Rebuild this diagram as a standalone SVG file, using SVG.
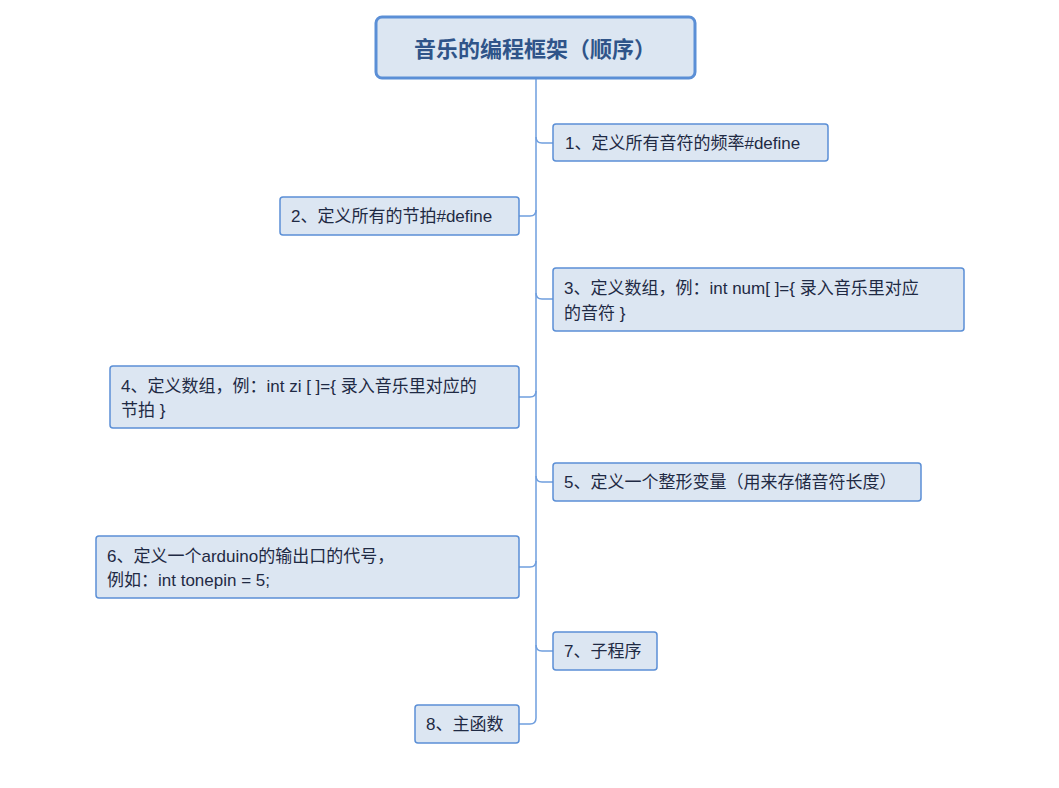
<svg xmlns="http://www.w3.org/2000/svg" width="1059" height="788" viewBox="0 0 1059 788">
<style>
.n{fill:#dce6f2;stroke:#5b8fd6;stroke-width:1.5}
.t{font-family:"Liberation Sans","Noto Sans CJK SC",sans-serif;font-size:17px;fill:#1f2a44}
.c{fill:none;stroke:#6f9ede;stroke-width:1.5}
</style>
<rect width="1059" height="788" fill="#fff"/>
<g id="connectors">
<path class="c" d="M536,79 V718 Q536,724 530,724 H519"/>
<path class="c" d="M536,137 Q536,143 542,143 H553"/>
<path class="c" d="M536,210 Q536,216 530,216 H519"/>
<path class="c" d="M536,293 Q536,299 542,299 H553"/>
<path class="c" d="M536,391 Q536,397 530,397 H519"/>
<path class="c" d="M536,476 Q536,482 542,482 H553"/>
<path class="c" d="M536,561 Q536,567 530,567 H519"/>
<path class="c" d="M536,645 Q536,651 542,651 H553"/>
</g>
<g id="title"><rect x="376" y="17" width="319" height="61" rx="6" fill="#dce6f2" stroke="#5b8fd6" stroke-width="3"/><text x="535" y="57" text-anchor="middle" font-family="'Liberation Sans','Noto Sans CJK SC',sans-serif" font-size="22" font-weight="bold" fill="#2f5489">音乐的编程框架（顺序）</text></g>
<g id="n1"><rect class="n" x="553" y="124" width="275" height="37" rx="3"/><text class="t" x="565" y="149">1、定义所有音符的频率#define</text></g>
<g id="n2"><rect class="n" x="280" y="197" width="239" height="38" rx="3"/><text class="t" x="291" y="222">2、定义所有的节拍#define</text></g>
<g id="n3"><rect class="n" x="553" y="268" width="411" height="63" rx="3"/><text class="t" x="564" y="294">3、定义数组，例：int num[  ]={ 录入音乐里对应</text><text class="t" x="564" y="319">的音符 }</text></g>
<g id="n4"><rect class="n" x="110" y="366" width="409" height="62" rx="3"/><text class="t" x="121" y="392">4、定义数组，例：int zi [  ]={ 录入音乐里对应的</text><text class="t" x="121" y="416">节拍 }</text></g>
<g id="n5"><rect class="n" x="553" y="463" width="368" height="38" rx="3"/><text class="t" x="564" y="488">5、定义一个整形变量（用来存储音符长度）</text></g>
<g id="n6"><rect class="n" x="96" y="536" width="423" height="62" rx="3"/><text class="t" x="107" y="562">6、定义一个arduino的输出口的代号，</text><text class="t" x="107" y="586">例如：int  tonepin = 5;</text></g>
<g id="n7"><rect class="n" x="553" y="632" width="104" height="38" rx="3"/><text class="t" x="564" y="657">7、子程序</text></g>
<g id="n8"><rect class="n" x="415" y="705" width="104" height="38" rx="3"/><text class="t" x="426" y="730">8、主函数</text></g>
</svg>
